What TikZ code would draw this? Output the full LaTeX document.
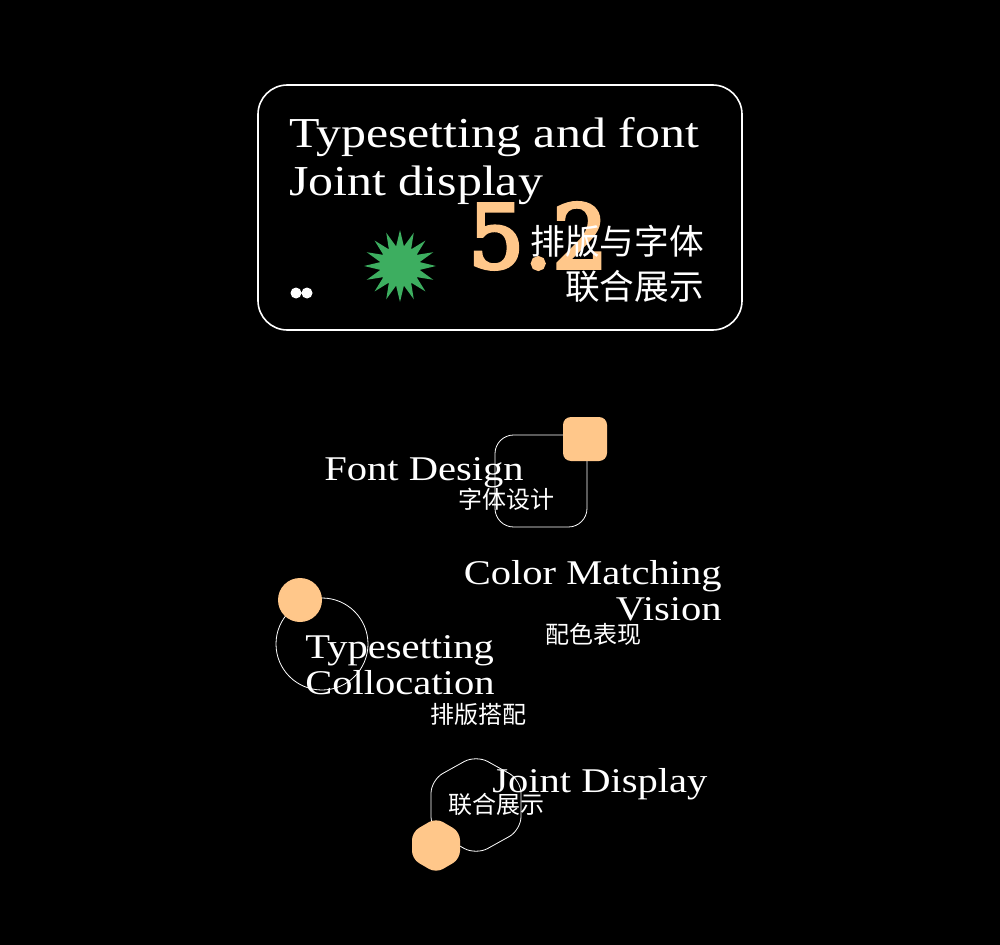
\documentclass[tikz,border=0pt]{standalone}
\usepackage{fontspec}
\setmainfont{Liberation Serif}[FakeStretch=1.17]
\newfontfamily\cjk{Noto Sans CJK SC}
\newfontfamily\heavy{DejaVu Serif}[FakeBold=4]
\definecolor{peach}{HTML}{FFC78A}
\definecolor{sgreen}{HTML}{3DAE60}
\begin{document}
\begin{tikzpicture}[x=0.75pt,y=-0.75pt,
  en/.style={text=white,font=\fontsize{26}{27}\selectfont,inner sep=0,align=left},
  enr/.style={en,align=right},
  zh/.style={text=white,font=\cjk\fontsize{18}{22}\selectfont,inner sep=0},
  thin/.style={draw=white,line width=0.6pt}]
\fill[black] (0,0) rectangle (1000,945);
\useasboundingbox (0,0) rectangle (1000,945);
\draw[white,line width=1.2pt,rounded corners=22] (258,85) rectangle (742,330);
\node[en,anchor=north west,font=\fontsize{32}{36}\selectfont] (title) at (289,117) {Typesetting and font\\Joint display};
\node[text=peach,font=\heavy\fontsize{66}{66}\selectfont,anchor=base west,inner sep=0] (num) at (468,268) {5.2};
\node[zh,font=\cjk\fontsize{26}{34}\selectfont,align=right,anchor=north east] (sub) at (704,225) {排版与字体\\联合展示};
\begin{scope}[shift={(400,266)}]
\fill[sgreen] (90:36) \foreach \i in {1,...,31}{ -- ({\i*11.25+90}:{ifthenelse(mod(\i,2)==1,20,36)}) } -- cycle;
\end{scope}
\fill[white] (296,293) circle (5.5) (307,293) circle (5.5);
% Font design
\draw[thin,rounded corners=14] (495,435) rectangle (587,527);
\fill[peach,rounded corners=6] (563,417) rectangle (607,461);
\node[en,anchor=base west] (fd) at (324,480) {Font Design};
\node[zh,anchor=base west] (fdz) at (458,508) {字体设计};
% Color
\node[enr,anchor=north east] (cm) at (722,560) {Color Matching\\Vision};
\node[zh,anchor=base west] (cmz) at (545,643) {配色表现};
% Typesetting
\draw[thin] (322,644) circle (46);
\fill[peach] (300,600) circle (22);
\node[en,anchor=north west] (tc) at (305,635) {Typesetting\\Collocation};
\node[zh,anchor=base west] (tcz) at (430,723) {排版搭配};
% Joint display
\draw[thin,rounded corners=10] (476,755) -- (521,780) -- (521,830) -- (476,855) -- (431,830) -- (431,780) -- cycle;
\fill[peach,rounded corners=6] (436,818) -- (460,832) -- (460,859) -- (436,873) -- (412,859) -- (412,832) -- cycle;
\node[en,anchor=base west] (jd) at (492,792) {Joint Display};
\node[zh,anchor=base west] (jdz) at (448,813) {联合展示};
\end{tikzpicture}
\end{document}
